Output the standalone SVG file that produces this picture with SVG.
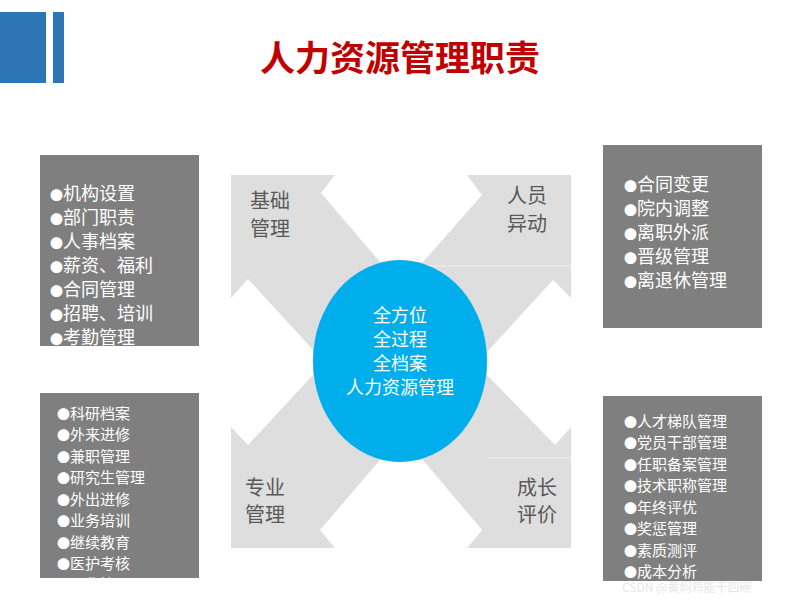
<svg xmlns="http://www.w3.org/2000/svg" width="800" height="600" viewBox="0 0 800 600">
<style>
text{font-family:"Noto Sans CJK SC","Liberation Sans",sans-serif}
.box{fill:#7f7f7f}
.bt{fill:#fff;font-size:18px}
.bs{fill:#fff;font-size:15px}
.b{font-size:13px}
.lbl{fill:#595959;font-size:20px}
.ct{fill:#fff;font-size:18px;text-anchor:middle}
.w{fill:#fff}
</style>
<defs><clipPath id="c1"><rect x="40" y="393" width="159" height="185"/></clipPath></defs>
<rect width="800" height="600" fill="#fff"/>
<rect x="0" y="12" width="46" height="71" fill="#2e75b6"/>
<rect x="53" y="12" width="11" height="71" fill="#2e75b6"/>
<text x="400" y="71" text-anchor="middle" font-size="35" font-weight="bold" fill="#c00000">人力资源管理职责</text>
<g id="cross">
<rect x="231" y="175" width="340" height="373" fill="#dedede"/>
<polygon class="w" points="335,175 321,193 380,262 423,262 482,195 467,175"/>
<polygon class="w" points="231,298 248,279 313,350 313,375 248,445 231,427"/>
<polygon class="w" points="571,298 553,280 487,352 487,375 555,445 571,427"/>
<polygon class="w" points="335,548 320,530 380,460 423,460 482,530 467,548"/>
<line x1="423" y1="266" x2="571" y2="266" stroke="#eee"/>
<line x1="487" y1="458" x2="571" y2="458" stroke="#eee"/>
</g>
<g id="labels">
<text class="lbl" x="250" y="208">基础</text><text class="lbl" x="250" y="236">管理</text>
<text class="lbl" x="507" y="203">人员</text><text class="lbl" x="507" y="231">异动</text>
<text class="lbl" x="245" y="495">专业</text><text class="lbl" x="245" y="522">管理</text>
<text class="lbl" x="517" y="495">成长</text><text class="lbl" x="517" y="522">评价</text>
</g>
<g id="center">
<ellipse cx="400" cy="361" rx="87" ry="101" fill="#00aeeb"/>
<text class="ct" x="400" y="322">全方位</text>
<text class="ct" x="400" y="346">全过程</text>
<text class="ct" x="400" y="370">全档案</text>
<text class="ct" x="400" y="394">人力资源管理</text>
</g>
<g id="box-lt">
<rect class="box" x="40" y="155" width="159" height="191"/>
<text class="bt" x="50" y="200"><tspan class="b">●</tspan>机构设置</text>
<text class="bt" x="50" y="224"><tspan class="b">●</tspan>部门职责</text>
<text class="bt" x="50" y="248"><tspan class="b">●</tspan>人事档案</text>
<text class="bt" x="50" y="272"><tspan class="b">●</tspan>薪资、福利</text>
<text class="bt" x="50" y="296"><tspan class="b">●</tspan>合同管理</text>
<text class="bt" x="50" y="320"><tspan class="b">●</tspan>招聘、培训</text>
<text class="bt" x="50" y="344"><tspan class="b">●</tspan>考勤管理</text>
</g>
<g id="box-rt">
<rect class="box" x="603" y="145" width="159" height="183"/>
<text class="bt" x="624" y="191"><tspan class="b">●</tspan>合同变更</text>
<text class="bt" x="624" y="215"><tspan class="b">●</tspan>院内调整</text>
<text class="bt" x="624" y="239"><tspan class="b">●</tspan>离职外派</text>
<text class="bt" x="624" y="263"><tspan class="b">●</tspan>晋级管理</text>
<text class="bt" x="624" y="287"><tspan class="b">●</tspan>离退休管理</text>
</g>
<g id="box-lb">
<rect class="box" x="40" y="393" width="159" height="185"/>
<g clip-path="url(#c1)">
<text class="bs" x="57" y="419"><tspan class="b">●</tspan>科研档案</text>
<text class="bs" x="57" y="440"><tspan class="b">●</tspan>外来进修</text>
<text class="bs" x="57" y="462"><tspan class="b">●</tspan>兼职管理</text>
<text class="bs" x="57" y="483"><tspan class="b">●</tspan>研究生管理</text>
<text class="bs" x="57" y="505"><tspan class="b">●</tspan>外出进修</text>
<text class="bs" x="57" y="526"><tspan class="b">●</tspan>业务培训</text>
<text class="bs" x="57" y="548"><tspan class="b">●</tspan>继续教育</text>
<text class="bs" x="57" y="569"><tspan class="b">●</tspan>医护考核</text>
<text class="bs" x="57" y="590"><tspan class="b">●</tspan>职称管理</text>
</g>
</g>
<g id="box-rb">
<rect class="box" x="603" y="396" width="159" height="185"/>
<text class="bs" x="624" y="427"><tspan class="b">●</tspan>人才梯队管理</text>
<text class="bs" x="624" y="448"><tspan class="b">●</tspan>党员干部管理</text>
<text class="bs" x="624" y="470"><tspan class="b">●</tspan>任职备案管理</text>
<text class="bs" x="624" y="491"><tspan class="b">●</tspan>技术职称管理</text>
<text class="bs" x="624" y="513"><tspan class="b">●</tspan>年终评优</text>
<text class="bs" x="624" y="534"><tspan class="b">●</tspan>奖惩管理</text>
<text class="bs" x="624" y="556"><tspan class="b">●</tspan>素质测评</text>
<text class="bs" x="624" y="577"><tspan class="b">●</tspan>成本分析</text>
</g>
<text x="622" y="592" font-size="12" fill="#e6e6e6">CSDN @黄焖鸡能干四碗</text>
</svg>
